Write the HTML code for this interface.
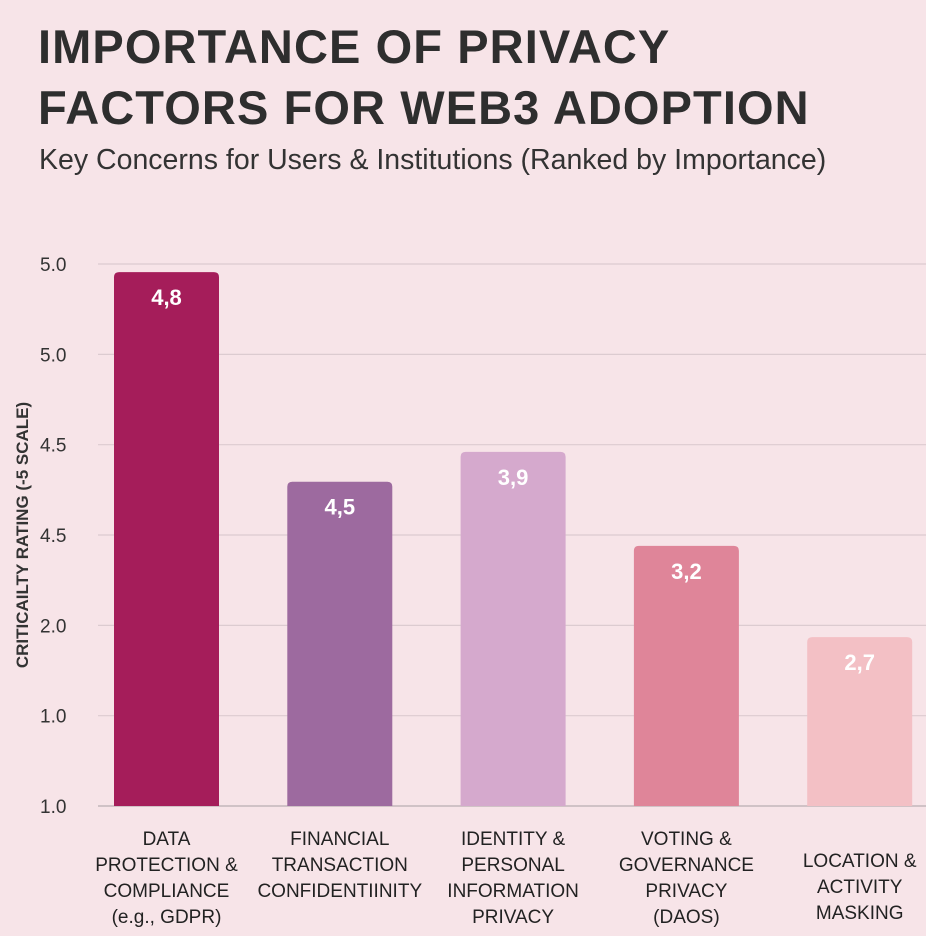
<!DOCTYPE html>
<html><head><meta charset="utf-8"><style>
body{margin:0;background:#f7e4e8;font-family:"Liberation Sans",sans-serif;}
#wrap{position:relative;width:926px;height:936px;overflow:hidden;background:#f7e4e8;}
h1{position:absolute;left:38px;top:16px;margin:0;font-size:47px;line-height:61px;font-weight:900;color:#2e2e2e;letter-spacing:1.1px;}
.sub{position:absolute;left:39px;top:144px;font-size:28.5px;color:#333;}
</style></head><body>
<div id="wrap">
<h1>IMPORTANCE OF PRIVACY<br>FACTORS FOR WEB3 ADOPTION</h1>
<div class="sub">Key Concerns for Users &amp; Institutions (Ranked by Importance)</div>
<svg id="chart" width="926" height="936" style="position:absolute;left:0;top:0"></svg>
</div>
<script>
const categories=[["DATA","PROTECTION &","COMPLIANCE","(e.g., GDPR)"],["FINANCIAL","TRANSACTION","CONFIDENTIINITY"],["IDENTITY &","PERSONAL","INFORMATION","PRIVACY"],["VOTING &","GOVERNANCE","PRIVACY","(DAOS)"],["LOCATION &","ACTIVITY","MASKING"]];
const values=[5.91,3.59,3.92,2.88,1.87];
const valueLabels=["4,8","4,5","3,9","3,2","2,7"];
const tickLabels=["1.0","1.0","2.0","4.5","4.5","5.0","5.0"];
const colors=["#a51d5a","#9d6a9f","#d5a9cd","#df8599","#f3c0c5"];
const NS="http://www.w3.org/2000/svg";
const svg=document.getElementById('chart');
const y0=806,unit=90.33,x0=114,step=173.3,bw=105;
function yS(v){return y0-v*unit;}
function xS(i){return x0+i*step;}
function mk(t,a){const e=document.createElementNS(NS,t);for(const k in a)e.setAttribute(k,a[k]);svg.appendChild(e);return e;}
tickLabels.forEach((t,i)=>{
 const g=mk('line',{x1:98,x2:926,y1:yS(i),y2:yS(i),stroke:i==0?'#b9aeb1':'#dccbd0','stroke-width':1.2});
 
 
 const tx=mk('text',{x:40,y:yS(i)+7,'font-size':19,fill:'#333','font-family':'Liberation Sans'});
 tx.textContent=t;
 
 
});
const yt=mk('text',{x:0,y:0,transform:'translate(28,535) rotate(-90)','text-anchor':'middle','font-size':17,'font-weight':'bold',fill:'#333'});
yt.textContent="CRITICAILTY RATING (-5 SCALE)";


values.forEach((v,i)=>{
 const x=xS(i),top=yS(v);
 const b=mk('path',{d:`M${x},${y0}V${top+5}Q${x},${top} ${x+5},${top}H${x+bw-5}Q${x+bw},${top} ${x+bw},${top+5}V${y0}Z`,fill:colors[i]});
 
 
 const l=mk('text',{x:x+bw/2,y:top+33,'text-anchor':'middle','font-size':22,'font-weight':'bold',fill:'#fff'});
 l.textContent=valueLabels[i];
 
 
 const lines=categories[i];
 const startY=i==4?867:845;
 lines.forEach((s,j)=>{
  const c=mk('text',{x:x+bw/2,y:startY+j*26,'text-anchor':'middle','font-size':19,fill:'#222'});
  c.textContent=s;
  
  
 });
});
</script>
</body></html>
